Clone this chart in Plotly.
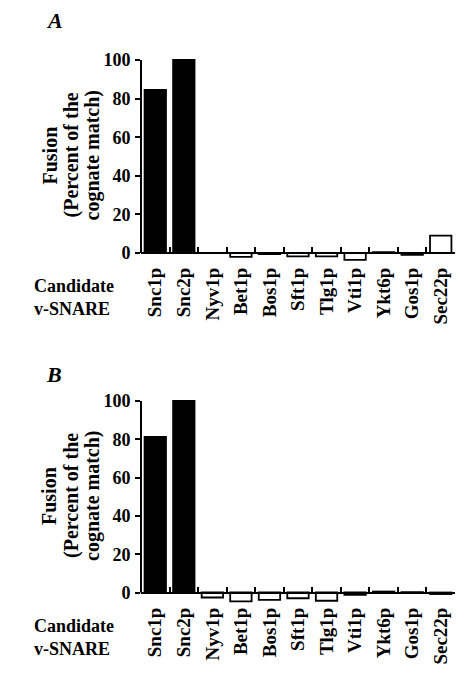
import plotly.graph_objects as go

# candidate v-SNAREs tested against the cognate match
candidates = ["Snc1p", "Snc2p", "Nyv1p", "Bet1p", "Bos1p", "Sft1p",
              "Tlg1p", "Vti1p", "Ykt6p", "Gos1p", "Sec22p"]
fusion_a = [84.5, 100, 0, -2.0, -0.6, -1.8, -1.8, -3.6, 0.5, -1.0, 9.0]
fusion_b = [81.2, 100, -2.6, -4.6, -3.8, -3.0, -4.3, -1.2, 0.5, 0.2, -0.8]
y_ticks = [0, 20, 40, 60, 80, 100]
cognate = ["Snc1p", "Snc2p"]

W, H = 474, 678
ML, MR, MT, MB = 133, 27, 50, 82
PH = H - MT - MB
YR = [-6, 101]
FONT = "Liberation Serif"


def paper_y(pix):
    return min(1.0, max(0.0, (H - MB - pix) / PH))


# pixel rows of y=0 and y=100 for each panel, and of the panel letter
panels = [("A", fusion_a, 245, 52, 12), ("B", fusion_b, 585, 393, 367)]

fig = go.Figure()
layout = dict(width=W, height=H, margin=dict(l=ML, r=MR, t=MT, b=MB),
              plot_bgcolor="white", paper_bgcolor="white", showlegend=False,
              font=dict(family=FONT, color="black", weight="bold"),
              annotations=[], shapes=[])

colors = ["black" if c in cognate else "white" for c in candidates]

for i, (letter, vals, y0pix, y100pix, letpix) in enumerate(panels):
    n = "" if i == 0 else str(i + 1)
    scale = (y0pix - y100pix) / 100.0
    top = y0pix - YR[1] * scale
    bot = y0pix - YR[0] * scale
    fig.add_trace(go.Bar(x=candidates, y=vals, xaxis="x" + n, yaxis="y" + n,
                         marker=dict(color=colors, line=dict(color="black", width=1.8)),
                         width=0.75))
    layout["xaxis" + n] = dict(anchor="free", position=paper_y(y0pix),
                               type="category", showline=True, linecolor="black", linewidth=2,
                               ticks="inside", ticklen=5, tickwidth=1.5, tickcolor="black",
                               tickson="boundaries", tickangle=-90, ticklabelstandoff=6,
                               tickfont=dict(size=19, family=FONT, weight="bold"),
                               showgrid=False, zeroline=False, range=[-0.5, 10.5])
    layout["yaxis" + n] = dict(anchor="x" + n, domain=[paper_y(bot), paper_y(top)],
                               range=YR, tickvals=y_ticks, ticks="outside", ticklen=5,
                               tickwidth=1.5, tickcolor="black", showline=False,
                               showgrid=False, zeroline=False, ticklabelstandoff=1,
                               tickfont=dict(size=18, family=FONT, weight="bold"))
    # y axis line only spans 0..100
    layout["shapes"].append(dict(type="line", xref="x" + n + " domain", yref="y" + n,
                                 x0=0, x1=0, y0=0, y1=100,
                                 line=dict(color="black", width=2)))
    # y title, three rotated lines
    for txt, xpix in [("Fusion", 41), ("(Percent of the", 63), ("cognate match)", 84)]:
        layout["annotations"].append(dict(
            text="<b>" + txt + "</b>", textangle=-90, showarrow=False,
            xref="paper", yref="paper", x=(xpix - ML) / (W - ML - MR),
            y=paper_y((y0pix + y100pix) / 2 - 1), xanchor="center", yanchor="middle",
            font=dict(size=20, family=FONT)))
    layout["annotations"].append(dict(
        text="<b>Candidate<br>v-SNARE</b>", showarrow=False, align="left",
        xref="paper", yref="paper", x=(24 - ML) / (W - ML - MR),
        y=(H - MB - (y0pix + 44)) / PH, xanchor="left", yanchor="middle",
        font=dict(size=18, family=FONT)))
    layout["annotations"].append(dict(
        text="<b><i>" + letter + "</i></b>", showarrow=False,
        xref="paper", yref="paper", x=(36 - ML) / (W - ML - MR),
        y=(H - MB - letpix) / PH, xanchor="left", yanchor="middle",
        font=dict(size=22, family=FONT)))

fig.update_layout(**layout)
fig.write_html("out.html")
